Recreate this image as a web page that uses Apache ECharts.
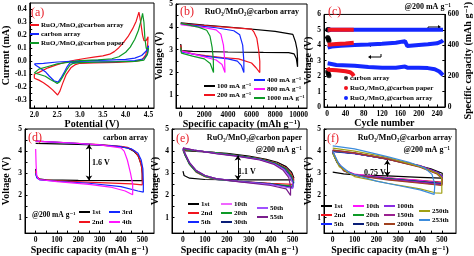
<!DOCTYPE html>
<html>
<head>
<meta charset="utf-8">
<script src="https://cdn.jsdelivr.net/npm/echarts@6/dist/echarts.min.js"></script>
<style>
  html, body { margin: 0; padding: 0; background: #fff; }
  #main { width: 474px; height: 256px; }
</style>
</head>
<body>
<div id="main"></div>
<script>
// ---- data ----

// (a) CV curves: [potential V, current mA]
var cvRuArray = [[2.0,-0.13],[2.0,-0.1],[2.1,-0.085],[2.3,-0.05],[2.5,-0.025],[2.7,-0.005],[2.9,0.01],[3.1,0.022],[3.3,0.032],[3.5,0.042],[3.65,0.055],[3.75,0.075],[3.85,0.105],[3.95,0.145],[4.05,0.19],[4.15,0.25],[4.23,0.31],[4.29,0.38],[4.33,0.3],[4.37,0.2],[4.4,0.16],[4.45,0.16],[4.49,0.19],[4.5,0.2],[4.48,0.12],[4.44,0.05],[4.35,0.01],[4.2,0],[3.8,-0.008],[3.3,-0.012],[3.0,-0.015],[2.9,-0.025],[2.8,-0.05],[2.7,-0.1],[2.62,-0.17],[2.56,-0.23],[2.51,-0.26],[2.47,-0.25],[2.4,-0.22],[2.3,-0.19],[2.2,-0.165],[2.1,-0.145],[2.0,-0.13]];
var cvCarbon = [[2.0,-0.02],[2.2,-0.015],[2.5,-0.005],[2.8,0.0],[3.2,0.005],[3.6,0.01],[4.0,0.015],[4.2,0.025],[4.35,0.045],[4.45,0.08],[4.5,0.12],[4.48,0.06],[4.4,0.02],[4.2,0.005],[3.8,-0.002],[3.2,-0.005],[2.9,-0.008],[2.78,-0.012],[2.72,-0.04],[2.66,-0.08],[2.58,-0.13],[2.52,-0.16],[2.48,-0.17],[2.43,-0.15],[2.33,-0.115],[2.24,-0.08],[2.1,-0.045],[2.03,-0.03],[2.0,-0.02]];
var cvRuPaper = [[2.0,-0.09],[2.1,-0.06],[2.3,-0.04],[2.5,-0.02],[2.8,-0.005],[3.0,0.005],[3.4,0.012],[3.7,0.02],[3.85,0.035],[4.0,0.07],[4.1,0.11],[4.2,0.17],[4.28,0.24],[4.34,0.32],[4.37,0.37],[4.4,0.3],[4.42,0.18],[4.45,0.1],[4.48,0.09],[4.5,0.1],[4.47,0.05],[4.4,0.01],[4.2,0.0],[3.5,-0.005],[3.0,-0.01],[2.85,-0.015],[2.78,-0.03],[2.7,-0.07],[2.62,-0.12],[2.55,-0.16],[2.5,-0.17],[2.45,-0.16],[2.35,-0.14],[2.24,-0.115],[2.1,-0.1],[2.0,-0.09]];

// (b) rate curves: [capacity mAh/g, voltage V]
var rateNames = ['100 mA g⁻¹', '200 mA g⁻¹', '400 mA g⁻¹', '800 mA g⁻¹', '1000 mA g⁻¹'];
var rate100 = [[0,3.25],[60,2.96],[1000,2.93],[4000,2.9],[7000,2.88],[9150,2.87],[9600,2.82],[9800,2.6],[9900,2.25],[9900,2.6],[9860,3.0],[9720,3.35],[9500,3.67],[8000,3.8],[5000,3.95],[2000,4.08],[0,4.18]];
var rate200 = [[0,3.2],[60,2.95],[1000,2.82],[2100,2.74],[3500,2.66],[4900,2.6],[6000,2.42],[6400,2.2],[6700,2.0],[6700,2.5],[6600,3.0],[6450,3.5],[6200,3.78],[6000,3.9],[4000,3.98],[2000,4.06],[0,4.14]];
var rate400 = [[0,3.0],[60,2.9],[2000,2.72],[4000,2.6],[4800,2.5],[5150,2.3],[5350,2.0],[5350,2.5],[5250,3.2],[5000,3.65],[4500,3.83],[3000,3.96],[1500,4.04],[0,4.12]];
var rate800 = [[0,2.95],[60,2.88],[1500,2.75],[3000,2.55],[3500,2.35],[3750,2.0],[3720,2.6],[3620,3.2],[3400,3.68],[3000,3.87],[2000,3.97],[0,4.1]];
var rate1000 = [[0,3.1],[60,2.85],[1000,2.72],[2000,2.6],[2500,2.4],[2780,2.0],[2760,2.6],[2660,3.1],[2480,3.6],[2200,3.85],[1500,3.99],[0,4.15]];

// (c) cycling: [cycle, V] or [cycle, mAh/g]
var cBlackCap = [[1,500],[2,500],[3,500],[4,500]];
var cBlackChg = [[1,4.5],[2,4.45],[3,4.36],[4,4.3]];
var cBlackDis = [[1,2.3],[2,2.2],[3,2.1],[4,2.02]];
var cRedCap = [[1,500],[58,500]];
var cRedChg = [[1,4.04],[20,4.08],[40,4.12],[58,4.17]];
var cRedDis = [[1,2.55],[3,2.42],[20,2.38],[40,2.32],[50,2.25],[55,2.15],[58,2.0]];
var cBlueCap = [[1,500],[253,500]];
var cBlueChg = [[1,3.85],[10,3.92],[30,3.97],[60,4.02],[90,4.05],[120,4.1],[150,4.17],[170,4.27],[173,4.27],[175,3.95],[200,4.02],[220,4.07],[240,4.13],[250,4.25],[253,4.33]];
var cBlueDis = [[1,2.83],[5,2.75],[20,2.72],[60,2.67],[90,2.6],[120,2.54],[150,2.55],[170,2.62],[175,2.55],[200,2.54],[220,2.52],[235,2.45],[245,2.3],[253,2.06]];

// (d) carbon array cycles
var d1 = [[0,3.2],[3,2.9],[15,2.75],[50,2.7],[200,2.68],[500,2.67],[500,3.0],[495,3.4],[480,3.8],[460,4.0],[430,4.15],[380,4.22],[300,4.27],[200,4.3],[100,4.33],[0,4.35]];
var d2 = [[0,3.1],[5,2.85],[20,2.72],[100,2.66],[300,2.58],[450,2.52],[500,2.48],[500,2.9],[497,3.3],[485,3.7],[465,4.0],[430,4.17],[400,4.22],[300,4.3],[150,4.38],[0,4.45]];
var d3 = [[0,3.0],[5,2.8],[20,2.7],[100,2.64],[250,2.55],[400,2.4],[480,2.2],[505,2.15],[505,2.6],[503,3.2],[495,3.6],[480,3.9],[450,4.1],[400,4.2],[300,4.28],[150,4.37],[0,4.45]];
var d4 = [[0,4.1],[2,3.4],[5,2.9],[15,2.72],[100,2.62],[250,2.5],[350,2.38],[420,2.2],[455,2.03],[455,2.5],[445,3.0],[430,3.6],[415,4.0],[400,4.15],[300,4.28],[150,4.38],[0,4.45]];
var dGap = [250, 2.68, 4.3];

// (e) carbon paper cycles
var e1 = [[0,3.1],[5,2.9],[30,2.78],[100,2.72],[300,2.7],[500,2.7],[505,2.8],[495,3.05],[470,3.3],[430,3.5],[380,3.63],[300,3.78],[200,3.9],[100,3.97],[0,4.02]];
var e2 = [[0,4.05],[10,3.8],[30,3.4],[60,3.05],[100,2.85],[150,2.72],[250,2.64],[400,2.55],[500,2.5],[505,2.7],[495,2.95],[470,3.25],[420,3.48],[350,3.66],[250,3.8],[150,3.93],[50,4.02],[0,4.07]];
var e5 = [[0,4.08],[10,3.82],[30,3.42],[60,3.08],[100,2.87],[150,2.73],[250,2.63],[400,2.5],[500,2.4],[505,2.6],[495,2.85],[470,3.2],[420,3.45],[350,3.64],[250,3.79],[150,3.92],[50,4.03],[0,4.1]];
var e10 = [[0,4.1],[10,3.85],[30,3.45],[60,3.1],[100,2.88],[150,2.74],[250,2.62],[400,2.5],[500,2.38],[503,2.6],[492,2.85],[465,3.2],[420,3.44],[350,3.63],[250,3.78],[150,3.91],[50,4.04],[0,4.12]];
var e20 = [[0,4.05],[10,3.8],[30,3.4],[60,3.07],[100,2.86],[150,2.73],[250,2.63],[400,2.52],[500,2.42],[503,2.6],[493,2.9],[468,3.22],[420,3.46],[350,3.65],[250,3.8],[150,3.93],[50,4.02],[0,4.08]];
var e30 = [[0,4.12],[10,3.86],[30,3.46],[60,3.12],[100,2.9],[150,2.76],[250,2.65],[400,2.52],[500,2.35],[502,2.55],[490,2.85],[462,3.2],[418,3.43],[350,3.63],[250,3.78],[150,3.9],[50,4.05],[0,4.13]];
var e50 = [[0,4.12],[10,3.88],[30,3.48],[60,3.13],[100,2.9],[150,2.76],[250,2.64],[400,2.5],[500,2.32],[502,2.5],[490,2.8],[460,3.18],[418,3.42],[350,3.62],[250,3.77],[150,3.9],[50,4.05],[0,4.14]];
var e55 = [[0,4.13],[10,3.88],[30,3.48],[60,3.12],[100,2.9],[150,2.76],[250,2.62],[400,2.45],[470,2.3],[490,2.0],[490,2.4],[482,2.8],[455,3.15],[415,3.4],[350,3.6],[250,3.76],[150,3.89],[50,4.05],[0,4.15]];
var eGap = [250, 2.7, 3.8];

// (f) RuO2/MnO2@carbon array cycles
var f1 = [[0,3.05],[50,2.97],[120,2.92],[250,2.88],[400,2.82],[500,2.78],[502,3.0],[450,3.2],[350,3.45],[250,3.65],[100,3.9],[0,4.0]];
var f2 = [[0,3.95],[20,3.5],[50,3.15],[100,2.95],[250,2.8],[400,2.68],[500,2.6],[503,2.85],[480,3.05],[400,3.35],[250,3.66],[100,3.9],[0,4.0]];
var f5 = [[0,3.92],[20,3.48],[50,3.12],[100,2.93],[250,2.78],[400,2.66],[500,2.57],[503,2.85],[480,3.05],[400,3.34],[250,3.65],[100,3.89],[0,3.98]];
var f10 = [[0,3.97],[20,3.52],[50,3.17],[100,2.96],[250,2.8],[400,2.67],[500,2.56],[503,2.82],[480,3.02],[400,3.33],[250,3.66],[100,3.91],[0,4.02]];
var f20 = [[0,3.94],[20,3.5],[50,3.14],[100,2.93],[250,2.77],[400,2.64],[500,2.55],[502,2.8],[480,3.0],[400,3.32],[250,3.65],[100,3.9],[0,4.0]];
var f50 = [[0,3.96],[20,3.5],[50,3.14],[100,2.92],[250,2.75],[400,2.62],[500,2.52],[502,2.8],[480,3.0],[400,3.31],[250,3.64],[100,3.9],[0,4.02]];
var f100 = [[0,3.98],[20,3.52],[50,3.15],[100,2.92],[250,2.74],[400,2.6],[500,2.5],[502,2.78],[480,3.0],[400,3.3],[250,3.64],[100,3.9],[0,4.03]];
var f150 = [[0,4.0],[20,3.55],[50,3.16],[100,2.92],[250,2.73],[400,2.58],[500,2.48],[502,2.78],[480,2.98],[400,3.3],[250,3.65],[100,3.92],[0,4.05]];
var f200 = [[0,3.98],[20,3.5],[50,3.12],[100,2.9],[250,2.7],[400,2.55],[500,2.45],[502,2.75],[478,2.97],[400,3.28],[250,3.64],[100,3.92],[0,4.05]];
var f250 = [[0,3.9],[30,3.3],[100,2.85],[250,2.55],[400,2.3],[470,2.12],[500,2.1],[500,2.8],[480,3.0],[400,3.3],[250,3.72],[100,4.0],[0,4.14]];
var f253 = [[0,4.0],[30,3.4],[80,3.0],[200,2.65],[300,2.45],[400,2.25],[465,2.05],[468,2.5],[455,2.95],[420,3.25],[350,3.5],[250,3.75],[100,4.1],[0,4.24]];
var fGap = [250, 2.85, 3.6];

// tick labels
var ticksAx = [2.0, 2.5, 3.0, 3.5, 4.0, 4.5];
var ticksAy = [-0.3, -0.2, -0.1, 0.0, 0.1, 0.2, 0.3, 0.4];
var ticksBx = [0, 2000, 4000, 6000, 8000, 10000];
var ticksV = [1, 2, 3, 4, 5];
var ticksCx = [0, 40, 80, 120, 160, 200, 240];
var ticksCy = [0, 1, 2, 3, 4, 5, 6];
var ticksCy2 = [0, 200, 400, 600];
var ticksCap = [0, 100, 200, 300, 400, 500];

var F = '"Liberation Serif", "DejaVu Serif", serif';
var CAP = 'Specific capacity (mAh g⁻¹)';
var RUA = 'RuO₂/MnO₂@carbon array';
var RUP = 'RuO₂/MnO₂@carbon paper';

// major ticks plus one minor tick between each pair
function withMinor(t) {
    var out = t.slice();
    for (var i = 0; i < t.length - 1; i++) out.push((t[i] + t[i + 1]) / 2);
    return out;
}

function axis(gi, min, max, ticks, name, gap, fmt, extra) {
    var a = {
        type: 'value', gridIndex: gi, min: min, max: max,
        name: name, nameLocation: 'middle', nameGap: gap,
        nameTextStyle: { fontFamily: F, fontWeight: 'bold', fontSize: 10, color: '#000' },
        axisLine: { show: true, onZero: false, lineStyle: { color: '#000', width: 1 } },
        axisTick: { show: true, inside: true, length: 2.5, customValues: withMinor(ticks), lineStyle: { color: '#000' } },
        axisLabel: { customValues: ticks, fontFamily: F, fontWeight: 'bold', fontSize: 7.5, color: '#000', margin: 3,
            formatter: fmt || function (v) { return String(v); } },
        splitLine: { show: false }
    };
    for (var k in extra) a[k] = extra[k];
    return a;
}
function f1d(v) { return v.toFixed(1); }

function ln(name, xi, yi, data, color, w) {
    return {
        type: 'line', name: name, xAxisIndex: xi, yAxisIndex: yi, data: data,
        showSymbol: false, symbol: 'none', animation: false,
        lineStyle: { color: color, width: w || 1.2 }, itemStyle: { color: color }
    };
}
function dots(name, yi, data) {
    return { type: 'scatter', name: name, xAxisIndex: 2, yAxisIndex: yi, data: data, symbolSize: 5, itemStyle: { color: '#000' }, animation: false };
}
function gapArrow(xi, yi, g) {
    return {
        type: 'line', xAxisIndex: xi, yAxisIndex: yi, data: [], animation: false,
        markLine: {
            silent: true, symbol: ['arrow', 'arrow'], symbolSize: 5,
            lineStyle: { color: '#000', width: 1, type: 'solid' }, label: { show: false },
            data: [[{ coord: [g[0], g[1]] }, { coord: [g[0], g[2]] }]]
        }
    };
}

var series = [
    ln('a|' + RUA, 0, 0, cvRuArray, '#f0141e'),
    ln('a|carbon array', 0, 0, cvCarbon, '#1428ff'),
    ln('a|' + RUP, 0, 0, cvRuPaper, '#0d9a26'),

    ln('b|' + rateNames[0], 1, 1, rate100, '#000'),
    ln('b|' + rateNames[1], 1, 1, rate200, '#f0141e'),
    ln('b|' + rateNames[2], 1, 1, rate400, '#1428ff'),
    ln('b|' + rateNames[3], 1, 1, rate800, '#ff14ff'),
    ln('b|' + rateNames[4], 1, 1, rate1000, '#0d9a26'),

    ln('c|' + RUA, 2, 3, cBlueCap, '#1428ff', 4),
    ln('c|' + RUA, 2, 2, cBlueChg, '#1428ff', 4),
    ln('c|' + RUA, 2, 2, cBlueDis, '#1428ff', 4),
    ln('c|' + RUP, 2, 3, cRedCap, '#f0141e', 4),
    ln('c|' + RUP, 2, 2, cRedChg, '#f0141e', 4),
    ln('c|' + RUP, 2, 2, cRedDis, '#f0141e', 4),
    dots('c|carbon array', 3, cBlackCap),
    dots('c|carbon array', 2, cBlackChg),
    dots('c|carbon array', 2, cBlackDis),

    ln('d|1st', 3, 4, d1, '#000'),
    ln('d|2nd', 3, 4, d2, '#f0141e'),
    ln('d|3rd', 3, 4, d3, '#1428ff'),
    ln('d|4th', 3, 4, d4, '#ff14ff'),
    gapArrow(3, 4, dGap),

    ln('e|1st', 4, 5, e1, '#000'),
    ln('e|2nd', 4, 5, e2, '#f0141e'),
    ln('e|5th', 4, 5, e5, '#1428ff'),
    ln('e|10th', 4, 5, e10, '#f066ff'),
    ln('e|20th', 4, 5, e20, '#0d9a26'),
    ln('e|30th', 4, 5, e30, '#0a1e78'),
    ln('e|50th', 4, 5, e50, '#a050ff'),
    ln('e|55th', 4, 5, e55, '#7a1e8c'),
    gapArrow(4, 5, eGap),

    ln('f|1st', 5, 6, f1, '#000'),
    ln('f|2nd', 5, 6, f2, '#f0141e'),
    ln('f|5th', 5, 6, f5, '#1428ff'),
    ln('f|10th', 5, 6, f10, '#ff14ff'),
    ln('f|20th', 5, 6, f20, '#0d9a26'),
    ln('f|50th', 5, 6, f50, '#0a1e78'),
    ln('f|100th', 5, 6, f100, '#8a2be2'),
    ln('f|150th', 5, 6, f150, '#9a2090'),
    ln('f|200th', 5, 6, f200, '#a0401e'),
    ln('f|250th', 5, 6, f250, '#a0a014'),
    ln('f|253th', 5, 6, f253, '#3c8cdc'),
    gapArrow(5, 6, fGap)
];

function leg(left, top, names, extra) {
    var l = {
        orient: 'vertical', left: left, top: top, padding: 0, itemGap: 1,
        itemWidth: 11, itemHeight: 2, icon: 'rect', selectedMode: false,
        textStyle: { fontFamily: F, fontWeight: 'bold', fontSize: 7, color: '#000', lineHeight: 8, padding: [0, 0, 0, -3] },
        formatter: function (n) { return n.split('|')[1]; },
        data: names
    };
    for (var k in extra) l[k] = extra[k];
    return l;
}
function pre(p, arr) { return arr.map(function (n) { return p + '|' + n; }); }

var legends = [
    leg(30, 21, pre('a', [RUA, 'carbon array', RUP]), { itemWidth: 9 }),
    leg(204, 82, pre('b', rateNames.slice(0, 2))),
    leg(254, 76, pre('b', rateNames.slice(2))),
    leg(344, 74, pre('c', ['carbon array', RUP, RUA]), { icon: 'circle', itemWidth: 4, itemHeight: 4, itemGap: 2 }),
    leg(79, 208, pre('d', ['1st', '2nd']), { itemGap: 2 }),
    leg(109, 208, pre('d', ['3rd', '4th']), { itemGap: 2 }),
    leg(188, 200, pre('e', ['1st', '2nd', '5th'])),
    leg(221, 200, pre('e', ['10th', '20th', '30th'])),
    leg(257, 204, pre('e', ['50th', '55th'])),
    leg(321, 202, pre('f', ['1st', '2nd', '5th'])),
    leg(353, 202, pre('f', ['10th', '20th', '50th'])),
    leg(384, 202, pre('f', ['100th', '150th', '200th'])),
    leg(419, 207, pre('f', ['250th', '253th']))
];

function txt(x, y, s, size, color, weight, align) {
    return { type: 'text', x: x, y: y, silent: true, z: 100, style: { text: s, fontFamily: F, fontSize: size, fontWeight: weight || 'bold', fill: color || '#000', textAlign: align || 'left', textVerticalAlign: 'middle' } };
}
function hook(xTail, xHead, y, dy) {
    var dir = xHead > xTail ? 1 : -1;
    return [
        { type: 'polyline', silent: true, shape: { points: [[xTail, y + dy], [xTail, y], [xHead, y]] }, style: { stroke: '#000', lineWidth: 1, fill: null } },
        { type: 'polygon', silent: true, shape: { points: [[xHead + dir * 2, y], [xHead - dir * 1, y - 2], [xHead - dir * 1, y + 2]] }, style: { fill: '#000' } }
    ];
}

var RED = '#e8202a';
var graphics = [
    txt(31, 13, '(a)', 12, RED, 'normal'),
    txt(180, 12, '(b)', 12, RED, 'normal'),
    txt(328, 12, '(c)', 12, RED, 'normal'),
    txt(28, 138, '(d)', 12, RED, 'normal'),
    txt(176, 139, '(e)', 12, RED, 'normal'),
    txt(327, 139, '(f)', 12, RED, 'normal'),
    txt(299, 12, RUA, 8, '#000', 'bold', 'right'),
    txt(451, 7, '@200 mA g⁻¹', 8, '#000', 'bold', 'right'),
    txt(148, 138, 'carbon array', 8, '#000', 'bold', 'right'),
    txt(302, 138, RUP, 8, '#000', 'bold', 'right'),
    txt(302, 150, '@200 mA g⁻¹', 8, '#000', 'bold', 'right'),
    txt(452, 138, RUA, 8, '#000', 'bold', 'right'),
    txt(450, 150, '@200 mA g⁻¹', 8, '#000', 'bold', 'right'),
    txt(32, 215, '@200 mA g⁻¹', 7.5, '#000', 'bold'),
    txt(92, 163, '1.6 V', 8, '#000', 'bold'),
    txt(238, 172, '1.1 V', 8, '#000', 'bold'),
    txt(364, 173, '0.75 V', 8, '#000', 'bold')
].concat(hook(381, 370, 45, -3), hook(381, 370, 57, -3), hook(428, 439, 27, 3));

var option = {
    animation: false,
    backgroundColor: '#fff',
    grid: [
        { left: 23, top: 3, width: 131, height: 105 },
        { left: 176, top: 3, width: 131, height: 105 },
        { left: 324, top: 3, width: 128, height: 104 },
        { left: 24, top: 129, width: 130, height: 111 },
        { left: 172, top: 129, width: 135, height: 111 },
        { left: 324, top: 129, width: 132, height: 111 }
    ].map(function (g) { g.show = true; g.borderColor = '#000'; g.borderWidth = 1; g.backgroundColor = 'transparent'; return g; }),
    xAxis: [
        axis(0, 1.9, 4.62, ticksAx, 'Potential (V)', 11, f1d),
        axis(1, -400, 10700, ticksBx, CAP, 11),
        axis(2, -7, 257, ticksCx, 'Cycle number', 11),
        axis(3, -50, 555, ticksCap, CAP, 11),
        axis(4, -50, 565, ticksCap, CAP, 11),
        axis(5, -40, 565, ticksCap, CAP, 11)
    ],
    yAxis: [
        axis(0, -0.36, 0.45, ticksAy, 'Current (mA)', 16, f1d, { nameRotate: 90 }),
        axis(1, 0.45, 5, ticksV, 'Voltage (V)', 12, null, { nameRotate: 90 }),
        axis(2, 0, 6, ticksCy, 'Voltage (V)', 9, null, { nameRotate: 90 }),
        axis(2, 0, 600, ticksCy2, CAP, 16, null, { nameRotate: 90, position: 'right' }),
        axis(3, 0.3, 5, ticksV, 'Voltage (V)', 14, null, { nameRotate: 90 }),
        axis(4, 0.3, 5, ticksV, 'Voltage (V)', 12, null, { nameRotate: 90 }),
        axis(5, 0.3, 5, ticksV, 'Voltage (V)', 10, null, { nameRotate: 90 })
    ],
    legend: legends,
    series: series,
    graphic: graphics
};

var chart = echarts.init(document.getElementById('main'), null, { renderer: 'canvas' });
chart.setOption(option);
</script>
</body>
</html>
